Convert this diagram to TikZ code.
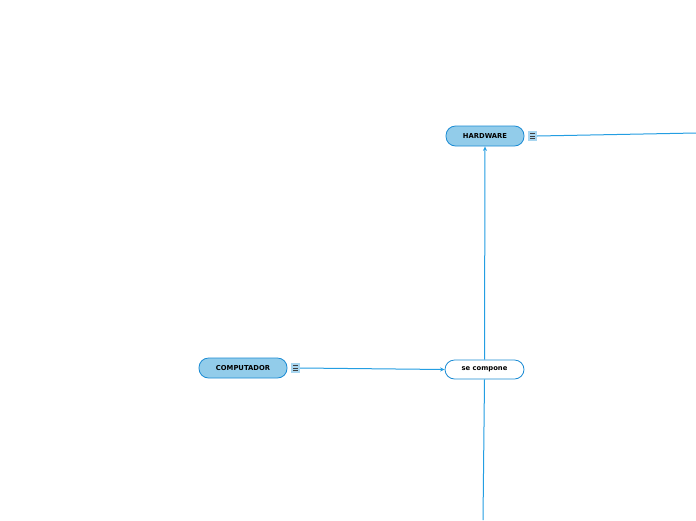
\documentclass[tikz,border=0pt]{standalone}
\usepackage{fontspec}
\setmainfont{DejaVu Sans}
\usetikzlibrary{arrows.meta}
\definecolor{boxfill}{RGB}{146,204,234}
\definecolor{boxline}{RGB}{28,140,212}
\definecolor{wire}{RGB}{36,158,226}
\definecolor{iconfill}{RGB}{168,214,240}
\tikzset{
  topic/.style={draw=boxline, line width=0.8pt, fill=boxfill, rounded corners=9.5pt,
    minimum height=20pt, inner sep=0pt, font=\fontsize{6.8}{7}\selectfont\bfseries},
  plain/.style={draw=boxline, line width=0.8pt, fill=white, rounded corners=9.5pt,
    minimum height=19pt, inner sep=0pt, font=\fontsize{6.8}{7}\selectfont\bfseries},
  icon/.style={fill=iconfill, minimum width=9pt, minimum height=10pt, inner sep=0pt},
  wireline/.style={draw=wire, line width=1pt},
  tip/.style={-{Stealth[length=4.5pt,width=4pt]}}
}
\newcommand{\menuicon}[1]{%
  \draw[black!75, line width=0.6pt] ([xshift=-2.5pt,yshift=-2.3pt]#1.center) -- ++(5pt,0)
    ([xshift=-2.5pt]#1.center) -- ++(5pt,0)
    ([xshift=-2.5pt,yshift=2.3pt]#1.center) -- ++(5pt,0);}
\begin{document}
\begin{tikzpicture}[x=1pt,y=-1pt]
\useasboundingbox[fill=white] (0,0) rectangle (696,520);
\node[topic, minimum width=78pt] (hw) at (485,136) {HARDWARE};
\node[icon] (hwi) at (532.5,136) {};
\menuicon{hwi}
\node[topic, minimum width=88pt] (comp) at (243,368) {COMPUTADOR};
\node[icon] (compi) at (295.5,368) {};
\menuicon{compi}
\node[plain, minimum width=79pt] (se) at (484.5,369.5) {se compone};
\coordinate (hwend) at (696,133);
\coordinate (seend) at (483,520);
\draw[wireline] (hwi.east) -- (hwend);
\draw[wireline, tip] (compi.east) -- (se.west);
\draw[wireline, tip] (se.north) -- (hw.south);
\draw[wireline] (se.south) -- (seend);
\end{tikzpicture}
\end{document}
